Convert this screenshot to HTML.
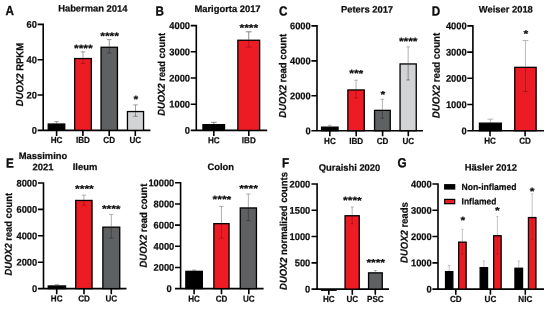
<!DOCTYPE html>
<html lang="en"><head><meta charset="utf-8"><title>DUOX2 expression in IBD cohorts</title>
<style>
html,body{margin:0;padding:0;background:#fff;}
body{width:550px;height:309px;overflow:hidden;}
svg{display:block;font-family:"Liberation Sans", Arial, sans-serif;font-weight:bold;}
svg text{fill:#0d0d0d;stroke:#0d0d0d;stroke-width:0.22px;stroke-linejoin:round;}
</style></head><body>
<svg width="550" height="309" viewBox="0 0 550 309">
<rect width="550" height="309" fill="#fff"/>
<text transform="translate(5.60,14.90) rotate(0.2) scale(0.89,1)" font-size="13.1" text-anchor="start" style="stroke-width:0.32px">A</text>
<text transform="translate(92.80,11.60) rotate(0.2)" font-size="9.4" text-anchor="middle" >Haberman 2014</text>
<text transform="translate(23.20,74.50) rotate(-89.8) scale(0.9390,1)" font-size="10.12" text-anchor="middle"><tspan font-style="italic">DUOX2</tspan> RPKM</text>
<text transform="translate(36.90,133.80) rotate(0.2) scale(0.96,1)" font-size="9.7" text-anchor="end" >0</text>
<text transform="translate(36.90,98.48) rotate(0.2) scale(0.96,1)" font-size="9.7" text-anchor="end" >20</text>
<text transform="translate(36.90,63.16) rotate(0.2) scale(0.96,1)" font-size="9.7" text-anchor="end" >40</text>
<text transform="translate(36.90,27.85) rotate(0.2) scale(0.96,1)" font-size="9.7" text-anchor="end" >60</text>
<path d="M43.20 23.60V131.15M42.40 130.35H150.40M37.60 130.35H43.20M37.60 95.03H43.20M37.60 59.72H43.20M37.60 24.40H43.20M56.60 130.35V135.95M82.90 130.35V135.95M109.20 130.35V135.95M135.30 130.35V135.95" stroke="#000" stroke-width="1.6" fill="none"/>
<path d="M56.50 123.40V121.70M54.20 121.70H58.80" stroke="#858585" stroke-width="0.8" fill="none"/>
<rect x="48.25" y="124.05" width="16.50" height="6.30" fill="#000" stroke="#000" stroke-width="1.3"/>
<path d="M83.00 57.90V51.90M80.70 51.90H85.30" stroke="#858585" stroke-width="0.8" fill="none"/>
<rect x="74.65" y="58.55" width="16.70" height="71.80" fill="#ed1c24" stroke="#000" stroke-width="1.3"/>
<path d="M83.00 59.20V63.60M80.70 63.60H85.30" stroke="#5a0c10" stroke-width="0.8" fill="none" opacity="0.5"/>
<path d="M109.25 46.60V39.60M106.95 39.60H111.55" stroke="#858585" stroke-width="0.8" fill="none"/>
<rect x="101.05" y="47.25" width="16.40" height="83.10" fill="#5f6062" stroke="#000" stroke-width="1.3"/>
<path d="M109.25 47.90V53.00M106.95 53.00H111.55" stroke="#1c1c1c" stroke-width="0.8" fill="none" opacity="0.5"/>
<path d="M135.50 110.90V104.90M133.20 104.90H137.80" stroke="#858585" stroke-width="0.8" fill="none"/>
<rect x="127.45" y="111.55" width="16.10" height="18.80" fill="#d2d3d4" stroke="#000" stroke-width="1.3"/>
<path d="M135.50 112.20V116.30M133.20 116.30H137.80" stroke="#1c1c1c" stroke-width="0.8" fill="none" opacity="0.5"/>
<text transform="translate(83.30,51.52) rotate(0.2) scale(1.22,1)" font-size="9.8" text-anchor="middle" >****</text>
<text transform="translate(109.60,39.32) rotate(0.2) scale(1.22,1)" font-size="9.8" text-anchor="middle" >****</text>
<text transform="translate(135.80,102.62) rotate(0.2) scale(1.22,1)" font-size="9.8" text-anchor="middle" >*</text>
<text transform="translate(56.50,143.00) rotate(0.2) scale(0.92,1)" font-size="8.8" text-anchor="middle" >HC</text>
<text transform="translate(82.90,143.00) rotate(0.2) scale(0.92,1)" font-size="8.8" text-anchor="middle" >IBD</text>
<text transform="translate(109.20,143.00) rotate(0.2) scale(0.92,1)" font-size="8.8" text-anchor="middle" >CD</text>
<text transform="translate(135.30,143.00) rotate(0.2) scale(0.92,1)" font-size="8.8" text-anchor="middle" >UC</text>
<text transform="translate(155.40,15.40) rotate(0.2) scale(0.89,1)" font-size="13.1" text-anchor="start" style="stroke-width:0.32px">B</text>
<text transform="translate(227.50,12.00) rotate(0.2)" font-size="9.4" text-anchor="middle" >Marigorta 2017</text>
<text transform="translate(164.90,74.40) rotate(-89.8) scale(0.9390,1)" font-size="9.99" text-anchor="middle"><tspan font-style="italic">DUOX2</tspan> read count</text>
<text transform="translate(190.00,133.85) rotate(0.2) scale(0.96,1)" font-size="9.7" text-anchor="end" >0</text>
<text transform="translate(190.00,107.65) rotate(0.2) scale(0.96,1)" font-size="9.7" text-anchor="end" >1000</text>
<text transform="translate(190.00,81.45) rotate(0.2) scale(0.96,1)" font-size="9.7" text-anchor="end" >2000</text>
<text transform="translate(190.00,55.25) rotate(0.2) scale(0.96,1)" font-size="9.7" text-anchor="end" >3000</text>
<text transform="translate(190.00,29.05) rotate(0.2) scale(0.96,1)" font-size="9.7" text-anchor="end" >4000</text>
<path d="M196.30 24.80V131.20M195.50 130.40H267.20M190.70 130.40H196.30M190.70 104.20H196.30M190.70 78.00H196.30M190.70 51.80H196.30M190.70 25.60H196.30M213.80 130.40V136.00M248.80 130.40V136.00" stroke="#000" stroke-width="1.6" fill="none"/>
<path d="M213.75 124.00V122.30M210.85 122.30H216.65" stroke="#6e6e6e" stroke-width="0.8" fill="none"/>
<rect x="202.95" y="124.65" width="21.60" height="5.75" fill="#000" stroke="#000" stroke-width="1.3"/>
<path d="M248.75 39.60V31.80M245.85 31.80H251.65" stroke="#6e6e6e" stroke-width="0.8" fill="none"/>
<rect x="237.85" y="40.25" width="21.80" height="90.15" fill="#ed1c24" stroke="#000" stroke-width="1.3"/>
<path d="M248.75 40.90V47.00M245.85 47.00H251.65" stroke="#5a0c10" stroke-width="0.8" fill="none" opacity="0.5"/>
<text transform="translate(248.80,30.92) rotate(0.2) scale(1.22,1)" font-size="9.8" text-anchor="middle" >****</text>
<text transform="translate(213.80,143.30) rotate(0.2) scale(0.92,1)" font-size="8.8" text-anchor="middle" >HC</text>
<text transform="translate(248.80,143.30) rotate(0.2) scale(0.92,1)" font-size="8.8" text-anchor="middle" >IBD</text>
<text transform="translate(279.00,15.40) rotate(0.2) scale(0.89,1)" font-size="13.1" text-anchor="start" style="stroke-width:0.32px">C</text>
<text transform="translate(367.00,12.60) rotate(0.2)" font-size="9.4" text-anchor="middle" >Peters 2017</text>
<text transform="translate(286.20,75.80) rotate(-89.8) scale(0.9390,1)" font-size="10.12" text-anchor="middle"><tspan font-style="italic">DUOX2</tspan> read count</text>
<text transform="translate(310.70,134.15) rotate(0.2) scale(0.96,1)" font-size="9.7" text-anchor="end" >0</text>
<text transform="translate(310.70,99.21) rotate(0.2) scale(0.96,1)" font-size="9.7" text-anchor="end" >2000</text>
<text transform="translate(310.70,64.28) rotate(0.2) scale(0.96,1)" font-size="9.7" text-anchor="end" >4000</text>
<text transform="translate(310.70,29.35) rotate(0.2) scale(0.96,1)" font-size="9.7" text-anchor="end" >6000</text>
<path d="M317.00 25.10V131.50M316.20 130.70H423.00M311.40 130.70H317.00M311.40 95.77H317.00M311.40 60.83H317.00M311.40 25.90H317.00M329.80 130.70V136.30M356.20 130.70V136.30M382.60 130.70V136.30M408.30 130.70V136.30" stroke="#000" stroke-width="1.6" fill="none"/>
<path d="M329.80 126.50V125.30M328.00 125.30H331.60" stroke="#a0a0a0" stroke-width="0.8" fill="none"/>
<rect x="321.55" y="127.15" width="16.50" height="3.55" fill="#000" stroke="#000" stroke-width="1.3"/>
<path d="M356.05 89.30V80.20M354.25 80.20H357.85" stroke="#a0a0a0" stroke-width="0.8" fill="none"/>
<rect x="347.85" y="89.95" width="16.40" height="40.75" fill="#ed1c24" stroke="#000" stroke-width="1.3"/>
<path d="M356.05 90.60V98.00M354.25 98.00H357.85" stroke="#5a0c10" stroke-width="0.8" fill="none" opacity="0.5"/>
<path d="M382.40 109.70V99.30M380.60 99.30H384.20" stroke="#a0a0a0" stroke-width="0.8" fill="none"/>
<rect x="374.55" y="110.35" width="15.70" height="20.35" fill="#5f6062" stroke="#000" stroke-width="1.3"/>
<path d="M382.40 111.00V118.30M380.60 118.30H384.20" stroke="#1c1c1c" stroke-width="0.8" fill="none" opacity="0.5"/>
<path d="M408.15 63.30V46.90M406.35 46.90H409.95" stroke="#a0a0a0" stroke-width="0.8" fill="none"/>
<rect x="400.05" y="63.95" width="16.20" height="66.75" fill="#d2d3d4" stroke="#000" stroke-width="1.3"/>
<path d="M408.15 64.60V80.00M406.35 80.00H409.95" stroke="#1c1c1c" stroke-width="0.8" fill="none" opacity="0.5"/>
<text transform="translate(356.20,76.62) rotate(0.2) scale(1.22,1)" font-size="9.8" text-anchor="middle" >***</text>
<text transform="translate(382.70,97.82) rotate(0.2) scale(1.22,1)" font-size="9.8" text-anchor="middle" >*</text>
<text transform="translate(408.20,44.52) rotate(0.2) scale(1.22,1)" font-size="9.8" text-anchor="middle" >****</text>
<text transform="translate(329.90,143.90) rotate(0.2) scale(0.92,1)" font-size="8.8" text-anchor="middle" >HC</text>
<text transform="translate(356.20,143.90) rotate(0.2) scale(0.92,1)" font-size="8.8" text-anchor="middle" >IBD</text>
<text transform="translate(382.60,143.90) rotate(0.2) scale(0.92,1)" font-size="8.8" text-anchor="middle" >CD</text>
<text transform="translate(408.30,143.90) rotate(0.2) scale(0.92,1)" font-size="8.8" text-anchor="middle" >UC</text>
<text transform="translate(431.80,15.40) rotate(0.2) scale(0.89,1)" font-size="13.1" text-anchor="start" style="stroke-width:0.32px">D</text>
<text transform="translate(505.80,12.50) rotate(0.2)" font-size="9.4" text-anchor="middle" >Weiser 2018</text>
<text transform="translate(439.70,75.50) rotate(-89.8) scale(0.9390,1)" font-size="10.28" text-anchor="middle"><tspan font-style="italic">DUOX2</tspan> read count</text>
<text transform="translate(466.60,134.15) rotate(0.2) scale(0.96,1)" font-size="9.7" text-anchor="end" >0</text>
<text transform="translate(466.60,107.95) rotate(0.2) scale(0.96,1)" font-size="9.7" text-anchor="end" >1000</text>
<text transform="translate(466.60,81.75) rotate(0.2) scale(0.96,1)" font-size="9.7" text-anchor="end" >2000</text>
<text transform="translate(466.60,55.55) rotate(0.2) scale(0.96,1)" font-size="9.7" text-anchor="end" >3000</text>
<text transform="translate(466.60,29.35) rotate(0.2) scale(0.96,1)" font-size="9.7" text-anchor="end" >4000</text>
<path d="M472.90 25.10V131.50M472.10 130.70H544.00M467.30 130.70H472.90M467.30 104.50H472.90M467.30 78.30H472.90M467.30 52.10H472.90M467.30 25.90H472.90M490.00 130.70V136.30M525.10 130.70V136.30" stroke="#000" stroke-width="1.6" fill="none"/>
<path d="M490.40 122.50V119.20M487.50 119.20H493.30" stroke="#a8a8a8" stroke-width="0.8" fill="none"/>
<rect x="479.45" y="123.15" width="21.90" height="7.55" fill="#000" stroke="#000" stroke-width="1.3"/>
<path d="M525.45 66.70V40.50M522.55 40.50H528.35" stroke="#a8a8a8" stroke-width="0.8" fill="none"/>
<rect x="514.75" y="67.35" width="21.40" height="63.35" fill="#ed1c24" stroke="#000" stroke-width="1.3"/>
<path d="M525.45 68.00V91.60M522.55 91.60H528.35" stroke="#5a0c10" stroke-width="0.8" fill="none" opacity="0.5"/>
<text transform="translate(525.90,37.12) rotate(0.2) scale(1.22,1)" font-size="9.8" text-anchor="middle" >*</text>
<text transform="translate(490.10,143.80) rotate(0.2) scale(0.92,1)" font-size="8.8" text-anchor="middle" >HC</text>
<text transform="translate(525.10,143.80) rotate(0.2) scale(0.92,1)" font-size="8.8" text-anchor="middle" >CD</text>
<text transform="translate(6.00,167.60) rotate(0.2) scale(0.89,1)" font-size="13.1" text-anchor="start" style="stroke-width:0.32px">E</text>
<text transform="translate(43.00,159.00) rotate(0.2)" font-size="9.4" text-anchor="middle" >Massimino</text>
<text transform="translate(43.00,170.30) rotate(0.2)" font-size="9.4" text-anchor="middle" >2021</text>
<text transform="translate(85.00,170.00) rotate(0.2)" font-size="9.4" text-anchor="middle" >Ileum</text>
<text transform="translate(11.80,234.30) rotate(-89.8) scale(0.9390,1)" font-size="9.96" text-anchor="middle"><tspan font-style="italic">DUOX2</tspan> read count</text>
<text transform="translate(37.20,292.05) rotate(0.2) scale(0.96,1)" font-size="9.7" text-anchor="end" >0</text>
<text transform="translate(37.20,265.65) rotate(0.2) scale(0.96,1)" font-size="9.7" text-anchor="end" >2000</text>
<text transform="translate(37.20,239.25) rotate(0.2) scale(0.96,1)" font-size="9.7" text-anchor="end" >4000</text>
<text transform="translate(37.20,212.85) rotate(0.2) scale(0.96,1)" font-size="9.7" text-anchor="end" >6000</text>
<text transform="translate(37.20,186.45) rotate(0.2) scale(0.96,1)" font-size="9.7" text-anchor="end" >8000</text>
<path d="M43.50 182.20V289.40M42.70 288.60H126.50M37.90 288.60H43.50M37.90 262.20H43.50M37.90 235.80H43.50M37.90 209.40H43.50M37.90 183.00H43.50M56.70 288.60V294.20M84.00 288.60V294.20M111.30 288.60V294.20" stroke="#000" stroke-width="1.6" fill="none"/>
<path d="M56.90 285.30V284.50M54.70 284.50H59.10" stroke="#9a9a9a" stroke-width="0.8" fill="none"/>
<rect x="48.25" y="285.95" width="17.30" height="2.65" fill="#000" stroke="#000" stroke-width="1.3"/>
<path d="M83.90 199.80V195.20M81.70 195.20H86.10" stroke="#9a9a9a" stroke-width="0.8" fill="none"/>
<rect x="75.75" y="200.45" width="16.30" height="88.15" fill="#ed1c24" stroke="#000" stroke-width="1.3"/>
<path d="M83.90 201.10V205.20M81.70 205.20H86.10" stroke="#5a0c10" stroke-width="0.8" fill="none" opacity="0.5"/>
<path d="M111.30 226.50V214.40M109.10 214.40H113.50" stroke="#9a9a9a" stroke-width="0.8" fill="none"/>
<rect x="102.85" y="227.15" width="16.90" height="61.45" fill="#5f6062" stroke="#000" stroke-width="1.3"/>
<path d="M111.30 227.80V238.20M109.10 238.20H113.50" stroke="#1c1c1c" stroke-width="0.8" fill="none" opacity="0.5"/>
<text transform="translate(84.40,192.02) rotate(0.2) scale(1.22,1)" font-size="9.8" text-anchor="middle" >****</text>
<text transform="translate(111.20,212.12) rotate(0.2) scale(1.22,1)" font-size="9.8" text-anchor="middle" >****</text>
<text transform="translate(56.70,301.50) rotate(0.2) scale(0.92,1)" font-size="8.8" text-anchor="middle" >HC</text>
<text transform="translate(84.00,301.50) rotate(0.2) scale(0.92,1)" font-size="8.8" text-anchor="middle" >CD</text>
<text transform="translate(111.30,301.50) rotate(0.2) scale(0.92,1)" font-size="8.8" text-anchor="middle" >UC</text>
<text transform="translate(220.70,170.00) rotate(0.2)" font-size="9.4" text-anchor="middle" >Colon</text>
<text transform="translate(146.90,225.60) rotate(-89.8) scale(0.9390,1)" font-size="10.12" text-anchor="middle"><tspan font-style="italic">DUOX2</tspan> read count</text>
<text transform="translate(171.80,292.05) rotate(0.2) scale(0.96,1)" font-size="9.7" text-anchor="end" >0</text>
<text transform="translate(174.30,270.89) rotate(0.2) scale(0.96,1)" font-size="9.7" text-anchor="end" >2000</text>
<text transform="translate(174.30,249.73) rotate(0.2) scale(0.96,1)" font-size="9.7" text-anchor="end" >4000</text>
<text transform="translate(174.30,228.57) rotate(0.2) scale(0.96,1)" font-size="9.7" text-anchor="end" >6000</text>
<text transform="translate(174.30,207.41) rotate(0.2) scale(0.96,1)" font-size="9.7" text-anchor="end" >8000</text>
<text transform="translate(174.30,186.25) rotate(0.2) scale(0.96,1)" font-size="9.7" text-anchor="end" >10000</text>
<path d="M180.60 182.00V289.40M179.80 288.60H263.60M175.00 288.60H180.60M175.00 267.44H180.60M175.00 246.28H180.60M175.00 225.12H180.60M175.00 203.96H180.60M175.00 182.80H180.60M194.10 288.60V294.20M221.50 288.60V294.20M248.80 288.60V294.20" stroke="#000" stroke-width="1.6" fill="none"/>
<path d="M194.10 270.70V270.00M191.90 270.00H196.30" stroke="#9a9a9a" stroke-width="0.8" fill="none"/>
<rect x="185.85" y="271.35" width="16.50" height="17.25" fill="#000" stroke="#000" stroke-width="1.3"/>
<path d="M221.45 223.00V206.50M219.25 206.50H223.65" stroke="#9a9a9a" stroke-width="0.8" fill="none"/>
<rect x="213.85" y="223.65" width="15.20" height="64.95" fill="#ed1c24" stroke="#000" stroke-width="1.3"/>
<path d="M221.45 224.30V238.20M219.25 238.20H223.65" stroke="#5a0c10" stroke-width="0.8" fill="none" opacity="0.5"/>
<path d="M248.35 207.30V194.10M246.15 194.10H250.55" stroke="#9a9a9a" stroke-width="0.8" fill="none"/>
<rect x="240.25" y="207.95" width="16.20" height="80.65" fill="#5f6062" stroke="#000" stroke-width="1.3"/>
<path d="M248.35 208.60V220.50M246.15 220.50H250.55" stroke="#1c1c1c" stroke-width="0.8" fill="none" opacity="0.5"/>
<text transform="translate(221.90,202.62) rotate(0.2) scale(1.22,1)" font-size="9.8" text-anchor="middle" >****</text>
<text transform="translate(248.50,191.82) rotate(0.2) scale(1.22,1)" font-size="9.8" text-anchor="middle" >****</text>
<text transform="translate(194.10,301.70) rotate(0.2) scale(0.92,1)" font-size="8.8" text-anchor="middle" >HC</text>
<text transform="translate(221.50,301.70) rotate(0.2) scale(0.92,1)" font-size="8.8" text-anchor="middle" >CD</text>
<text transform="translate(248.80,301.70) rotate(0.2) scale(0.92,1)" font-size="8.8" text-anchor="middle" >UC</text>
<text transform="translate(282.00,167.20) rotate(0.2) scale(0.89,1)" font-size="13.1" text-anchor="start" style="stroke-width:0.32px">F</text>
<text transform="translate(349.50,170.80) rotate(0.2)" font-size="9.4" text-anchor="middle" >Quraishi 2020</text>
<text transform="translate(287.00,231.00) rotate(-89.8) scale(0.9390,1)" font-size="10.01" text-anchor="middle"><tspan font-style="italic">DUOX2</tspan> normalized counts</text>
<text transform="translate(310.30,292.55) rotate(0.2) scale(0.96,1)" font-size="9.7" text-anchor="end" >0</text>
<text transform="translate(310.30,266.27) rotate(0.2) scale(0.96,1)" font-size="9.7" text-anchor="end" >500</text>
<text transform="translate(310.30,240.00) rotate(0.2) scale(0.96,1)" font-size="9.7" text-anchor="end" >1000</text>
<text transform="translate(310.30,213.72) rotate(0.2) scale(0.96,1)" font-size="9.7" text-anchor="end" >1500</text>
<text transform="translate(310.30,187.45) rotate(0.2) scale(0.96,1)" font-size="9.7" text-anchor="end" >2000</text>
<path d="M317.10 183.20V289.90M316.30 289.10H389.00M311.50 289.10H317.10M311.50 262.83H317.10M311.50 236.55H317.10M311.50 210.28H317.10M311.50 184.00H317.10M328.80 289.10V294.70M352.30 289.10V294.70M375.30 289.10V294.70" stroke="#000" stroke-width="1.6" fill="none"/>
<path d="M320.9 290.4H336.7" stroke="#000" stroke-width="1"/>
<path d="M352.15 215.10V207.00M350.65 207.00H353.65" stroke="#a0a0a0" stroke-width="0.8" fill="none"/>
<rect x="345.05" y="215.75" width="14.20" height="73.35" fill="#ed1c24" stroke="#000" stroke-width="1.3"/>
<path d="M352.15 216.40V223.80M350.65 223.80H353.65" stroke="#5a0c10" stroke-width="0.8" fill="none" opacity="0.5"/>
<path d="M375.40 272.20V270.50M373.90 270.50H376.90" stroke="#a0a0a0" stroke-width="0.8" fill="none"/>
<rect x="368.55" y="272.85" width="13.70" height="16.25" fill="#5f6062" stroke="#000" stroke-width="1.3"/>
<text transform="translate(352.40,203.62) rotate(0.2) scale(1.22,1)" font-size="9.8" text-anchor="middle" >****</text>
<text transform="translate(375.70,265.82) rotate(0.2) scale(1.22,1)" font-size="9.8" text-anchor="middle" >****</text>
<text transform="translate(328.80,302.00) rotate(0.2) scale(0.92,1)" font-size="8.8" text-anchor="middle" >HC</text>
<text transform="translate(352.30,302.00) rotate(0.2) scale(0.92,1)" font-size="8.8" text-anchor="middle" >UC</text>
<text transform="translate(375.30,302.00) rotate(0.2) scale(0.92,1)" font-size="8.8" text-anchor="middle" >PSC</text>
<text transform="translate(397.60,167.30) rotate(0.2) scale(0.89,1)" font-size="13.1" text-anchor="start" style="stroke-width:0.32px">G</text>
<text transform="translate(490.80,170.60) rotate(0.2)" font-size="9.4" text-anchor="middle" >Häsler 2012</text>
<text transform="translate(407.70,232.60) rotate(-89.8) scale(0.9390,1)" font-size="10.12" text-anchor="middle"><tspan font-style="italic">DUOX2</tspan> reads</text>
<text transform="translate(431.70,292.55) rotate(0.2) scale(0.96,1)" font-size="9.7" text-anchor="end" >0</text>
<text transform="translate(431.70,266.27) rotate(0.2) scale(0.96,1)" font-size="9.7" text-anchor="end" >1000</text>
<text transform="translate(431.70,240.00) rotate(0.2) scale(0.96,1)" font-size="9.7" text-anchor="end" >2000</text>
<text transform="translate(431.70,213.72) rotate(0.2) scale(0.96,1)" font-size="9.7" text-anchor="end" >3000</text>
<text transform="translate(431.70,187.45) rotate(0.2) scale(0.96,1)" font-size="9.7" text-anchor="end" >4000</text>
<path d="M438.00 183.20V289.90M437.20 289.10H544.00M432.40 289.10H438.00M432.40 262.83H438.00M432.40 236.55H438.00M432.40 210.28H438.00M432.40 184.00H438.00M455.80 289.10V294.70M490.40 289.10V294.70M525.30 289.10V294.70" stroke="#000" stroke-width="1.6" fill="none"/>
<rect x="444.7" y="184.7" width="10.0" height="4.3" fill="#000" stroke="#000" stroke-width="1.2"/>
<rect x="444.7" y="199.4" width="10.0" height="4.3" fill="#ed1c24" stroke="#000" stroke-width="1.2"/>
<text transform="translate(461.60,189.90) rotate(0.2) scale(0.946,1)" font-size="9.1" text-anchor="start" >Non-inflamed</text>
<text transform="translate(461.60,204.40) rotate(0.2) scale(0.93,1)" font-size="9.1" text-anchor="start" >Inflamed</text>
<path d="M449.20 271.00V265.40M448.00 265.40H450.40" stroke="#b6b6b6" stroke-width="0.8" fill="none"/>
<rect x="445.55" y="271.65" width="7.30" height="17.45" fill="#000" stroke="#000" stroke-width="1.3"/>
<path d="M462.40 241.50V229.30M461.20 229.30H463.60" stroke="#b6b6b6" stroke-width="0.8" fill="none"/>
<rect x="458.65" y="242.15" width="7.50" height="46.95" fill="#ed1c24" stroke="#000" stroke-width="1.3"/>
<path d="M462.40 242.80V254.20M461.20 254.20H463.60" stroke="#5a0c10" stroke-width="0.8" fill="none" opacity="0.3"/>
<path d="M483.85 267.00V261.00M482.65 261.00H485.05" stroke="#b6b6b6" stroke-width="0.8" fill="none"/>
<rect x="480.15" y="267.65" width="7.40" height="21.45" fill="#000" stroke="#000" stroke-width="1.3"/>
<path d="M497.40 235.10V216.60M496.20 216.60H498.60" stroke="#b6b6b6" stroke-width="0.8" fill="none"/>
<rect x="493.65" y="235.75" width="7.50" height="53.35" fill="#ed1c24" stroke="#000" stroke-width="1.3"/>
<path d="M497.40 236.40V254.20M496.20 254.20H498.60" stroke="#5a0c10" stroke-width="0.8" fill="none" opacity="0.3"/>
<path d="M518.75 267.60V261.00M517.55 261.00H519.95" stroke="#b6b6b6" stroke-width="0.8" fill="none"/>
<rect x="514.95" y="268.25" width="7.60" height="20.85" fill="#000" stroke="#000" stroke-width="1.3"/>
<path d="M532.20 216.90V193.80M531.00 193.80H533.40" stroke="#b6b6b6" stroke-width="0.8" fill="none"/>
<rect x="528.45" y="217.55" width="7.50" height="71.55" fill="#ed1c24" stroke="#000" stroke-width="1.3"/>
<path d="M532.20 218.20V239.50M531.00 239.50H533.40" stroke="#5a0c10" stroke-width="0.8" fill="none" opacity="0.3"/>
<text transform="translate(462.70,223.62) rotate(0.2) scale(1.22,1)" font-size="9.8" text-anchor="middle" >*</text>
<text transform="translate(497.30,213.72) rotate(0.2) scale(1.22,1)" font-size="9.8" text-anchor="middle" >*</text>
<text transform="translate(532.10,194.52) rotate(0.2) scale(1.22,1)" font-size="9.8" text-anchor="middle" >*</text>
<text transform="translate(455.80,302.00) rotate(0.2) scale(0.92,1)" font-size="8.8" text-anchor="middle" >CD</text>
<text transform="translate(490.40,302.00) rotate(0.2) scale(0.92,1)" font-size="8.8" text-anchor="middle" >UC</text>
<text transform="translate(525.30,302.00) rotate(0.2) scale(0.92,1)" font-size="8.8" text-anchor="middle" >NIC</text>
</svg>
</body></html>
